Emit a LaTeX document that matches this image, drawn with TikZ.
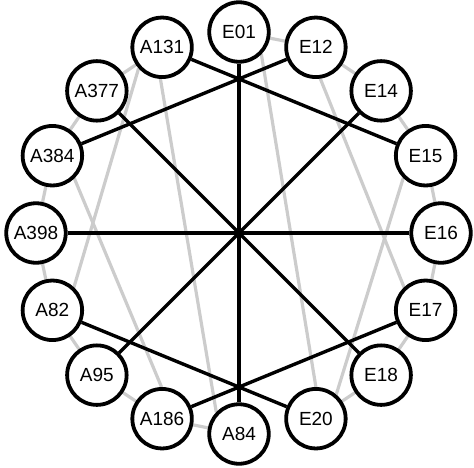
\documentclass[tikz,border=0pt]{standalone}
\usepackage{fontspec}
\setmainfont{Liberation Sans}
\usetikzlibrary{backgrounds}
\definecolor{ring}{HTML}{CCCCCC}
\tikzset{
  res/.style={circle,draw=black,line width=3.8pt,fill=white,minimum size=59.5pt,inner sep=0pt,font=\fontsize{19}{21}\selectfont},
  pair/.style={line width=3.4pt,draw=black},
  ring/.style={line width=3.2pt,draw=ring},
}
\begin{document}
\begin{tikzpicture}[x=1pt,y=1pt]
\useasboundingbox (-239,-234) rectangle (235,233);
% residues round the wheel
\node[res] (E01) at (90:201) {E01};
\node[res] (E12) at (67.5:201) {E12};
\node[res] (E14) at (45:201) {E14};
\node[res] (E15) at (22.5:202) {E15};
\node[res] (E16) at (0:202) {E16};
\node[res] (E17) at (-22.5:202) {E17};
\node[res] (E18) at (-45:201) {E18};
\node[res] (E20) at (-67.5:201) {E20};
\node[res] (A84) at (-90:201) {A84};
\node[res] (A186) at (-112.5:201) {A186};
\node[res] (A95) at (-135:201) {A95};
\node[res] (A82) at (-157.5:202) {A82};
\node[res] (A398) at (180:203) {A398};
\node[res] (A384) at (157.5:202) {A384};
\node[res] (A377) at (135:201) {A377};
\node[res] (A131) at (112.5:201) {A131};
\begin{scope}[on background layer]
% grey ring and chords
\draw[ring] (E01) -- (E12) -- (E14) -- (E15) -- (E16) -- (E17) -- (E18) -- (E20);
\draw[ring] (A84) -- (A186) -- (A95) -- (A82) -- (A398) -- (A384) -- (A377) -- (A131);
\draw[ring] (A131.222) -- (A82.47);
\draw[ring] (A131.267) -- (A84.136);
\draw[ring] (A384.314) -- (A186.91);
\draw[ring] (E01.315) -- (E20.90);
\draw[ring] (E12.278) -- (E17.133);
\draw[ring] (E15.225) -- (E20.50);
% black pairs
\draw[pair] (E01) -- (A84);
\draw[pair] (A398) -- (E16);
\draw[pair] (A377) -- (E18);
\draw[pair] (E14) -- (A95);
\draw[pair] (A131) -- (E15);
\draw[pair] (E12) -- (A384);
\draw[pair] (A82) -- (E20);
\draw[pair] (E17) -- (A186);
\end{scope}
\end{tikzpicture}
\end{document}
